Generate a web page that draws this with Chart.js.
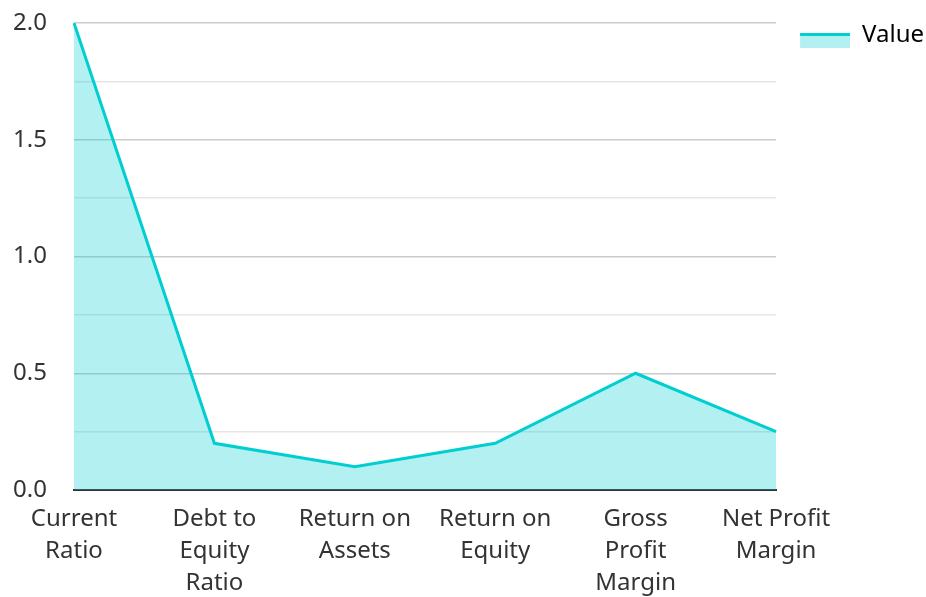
<!DOCTYPE html>
<html>
<head>
<meta charset="utf-8">
<script src="https://cdn.jsdelivr.net/npm/chart.js@4/dist/chart.umd.min.js"></script>
<style>
  body { margin: 0; background: #fff; }
  #wrap { width: 926px; height: 597px; }
</style>
</head>
<body>
<div id="wrap"><canvas id="grafico" width="926" height="597"></canvas></div>
<script>
var categorias = [
  ['Current', 'Ratio'],
  ['Debt to', 'Equity', 'Ratio'],
  ['Return on', 'Assets'],
  ['Return on', 'Equity'],
  ['Gross', 'Profit', 'Margin'],
  ['Net Profit', 'Margin']
];
var valores = [2.0, 0.2, 0.1, 0.2, 0.5, 0.25];
var serieNome = 'Value';

var corLinha = '#00CED1';
var corFundo = 'rgba(0, 206, 209, 0.3)';

// icone da legenda: linha no topo e fundo claro (margem transparente no topo)
var icone = document.createElement('canvas');
icone.width = 51;
icone.height = 26;
var ic = icone.getContext('2d');
ic.fillStyle = corFundo;
ic.fillRect(1, 11, 50, 15);
ic.fillStyle = corLinha;
ic.fillRect(1, 11, 50, 3);

Chart.defaults.font.family = "'Noto Sans', sans-serif";
Chart.defaults.font.size = 24;
Chart.defaults.font.lineHeight = 1.333;
Chart.defaults.color = '#333';

var ctx = document.getElementById('grafico').getContext('2d');
var grafico = new Chart(ctx, {
  type: 'line',
  data: {
    labels: categorias,
    datasets: [{
      label: serieNome,
      data: valores,
      borderColor: corLinha,
      backgroundColor: corFundo,
      borderWidth: 3,
      fill: 'origin',
      pointRadius: 0,
      tension: 0
    }]
  },
  options: {
    responsive: false,
    animation: false,
    layout: { padding: { top: 0, left: 0, bottom: 0, right: -8 } },
    plugins: {
      legend: {
        position: 'right',
        align: 'start',
        labels: {
          usePointStyle: true,
          pointStyleWidth: 51,
          padding: 23,
          color: '#333',
          generateLabels: function(chart) {
            return [{
              text: serieNome,
              pointStyle: icone,
              fillStyle: corFundo,
              strokeStyle: corLinha,
              lineWidth: 0,
              datasetIndex: 0
            }];
          }
        }
      },
      tooltip: { enabled: false }
    },
    scales: {
      x: {
        grid: { display: false, drawTicks: false },
        border: { display: true, color: '#333', width: 2 },
        ticks: { padding: 13, maxRotation: 0, autoSkip: false },
        afterFit: function(s) {
          s.height = 107;
          s.paddingLeft = 0;
          s.paddingRight = 0;
        }
      },
      y: {
        min: 0,
        max: 2,
        border: { display: false },
        grid: {
          drawTicks: false,
          color: function(c) {
            var v = c.tick ? c.tick.value : 0;
            return Math.abs(v * 2 - Math.round(v * 2)) < 1e-6 ? '#cccccc' : '#e6e6e6';
          },
          lineWidth: 1.5
        },
        ticks: {
          stepSize: 0.25,
          padding: 27,
          callback: function(v) {
            return Math.abs(v * 2 - Math.round(v * 2)) < 1e-6 ? v.toFixed(1) : '';
          }
        },
        afterFit: function(s) {
          s.width = 74;
          s.paddingTop = 23;
          s.paddingBottom = 0;
        }
      }
    }
  }
});
</script>
</body>
</html>
